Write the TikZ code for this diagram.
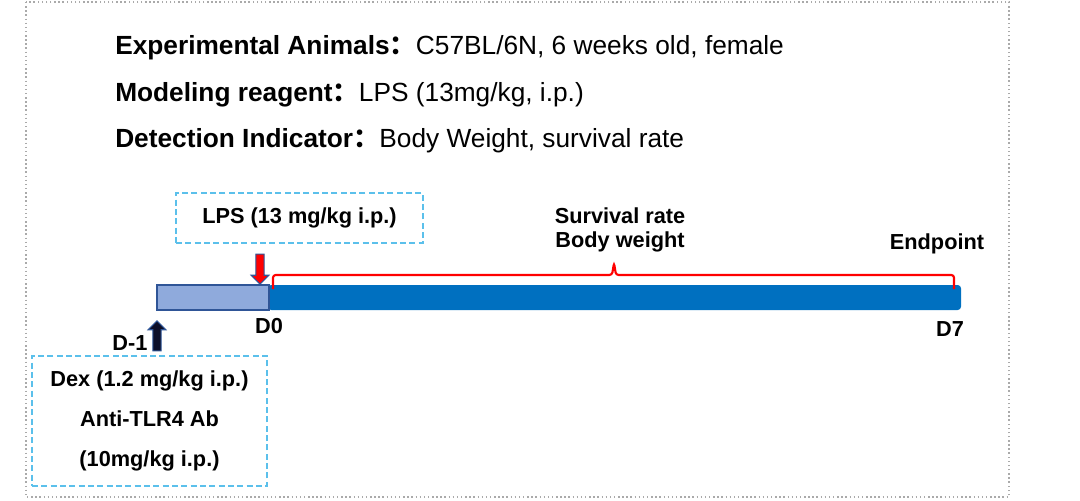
\documentclass[tikz,border=0pt]{standalone}
\usepackage{fontspec}
\setmainfont{Liberation Sans}
\newfontfamily\cjk{Noto Sans CJK SC}
\usepackage{xcolor}
\usetikzlibrary{shapes.arrows}
\definecolor{framegray}{RGB}{170,170,170}
\definecolor{boxcyan}{RGB}{91,192,235}
\definecolor{barlight}{RGB}{143,170,220}
\definecolor{bardark}{RGB}{0,112,192}
\definecolor{edgeblue}{RGB}{47,85,151}
\definecolor{pulsered}{RGB}{255,0,0}
\definecolor{navyink}{RGB}{12,14,40}
\tikzset{
  headline/.style={anchor=base west, inner sep=0pt, font=\fontsize{19.7}{23}\selectfont},
  tag/.style={inner sep=0pt, align=center, font=\bfseries\fontsize{16.3}{18}\selectfont},
  dosebox/.style={draw=boxcyan, line width=1.1pt, dash pattern=on 4.5pt off 2.5pt,
    inner sep=0pt, align=center, font=\bfseries\fontsize{16.3}{30}\selectfont},
  barpart/.style={inner sep=0pt, minimum height=18.75pt},
  shot/.style={single arrow, draw=edgeblue, line width=0.8pt, inner sep=2.7pt,
    single arrow head extend=3.5pt, minimum height=22.5pt},
  bracket/.style={draw=pulsered, line width=1.6pt, rounded corners=2pt},
}

\begin{document}
\begin{tikzpicture}[x=0.75pt, y=-0.75pt]
  \useasboundingbox (0,0) rectangle (1080,500);
  \draw[framegray, line width=1.1pt, dotted] (26,2) rectangle (1009,497);

  % study description
  \node[headline] (animals) at (115,54)
    {\textbf{Experimental Animals}{\cjk\bfseries ：}C57BL/6N, 6 weeks old, female};
  \node[headline] (reagent) at (115,101)
    {\textbf{Modeling reagent}{\cjk\bfseries ：}LPS (13mg/kg, i.p.)};
  \node[headline] (indicator) at (115,147)
    {\textbf{Detection Indicator}{\cjk\bfseries ：}Body Weight, survival rate};

  % timeline
  \node[barpart, fill=bardark, rounded corners=2.5pt, minimum width=519.75pt] (main) at (614.5,297.5) {};
  \node[barpart, fill=barlight, draw=edgeblue, line width=0.9pt, minimum width=84pt] (pre) at (213,297.5) {};

  \node[dosebox, minimum width=185.25pt, minimum height=37.5pt] (lpsbox) at (299.5,218) {LPS (13 mg/kg i.p.)};
  \node[dosebox, minimum width=176.25pt, minimum height=97.5pt] (dexbox) at (149.5,421)
    {Dex (1.2 mg/kg i.p.)\\Anti-TLR4 Ab\\(10mg/kg i.p.)};

  \node[shot, fill=pulsered, rotate=-90] (lpsshot) at (260,267) {};
  \node[shot, fill=navyink, rotate=90] (dexshot) at (157,338) {};

  \node[tag] (dm1) at (130,343) {D-1};
  \node[tag] (d0) at (269,326) {D0};
  \node[tag] (d7) at (950,329) {D7};
  \node[tag] (readout) at (620,230) {Survival rate\\Body weight};
  \node[tag] (endpt) at (937,244) {Endpoint};

  \coordinate (brL) at (273,289);
  \coordinate (brR) at (954,289);
  \draw[bracket] (brL) |- (612,275) -- (614,263) -- (616,275) -| (brR);
\end{tikzpicture}
\end{document}
